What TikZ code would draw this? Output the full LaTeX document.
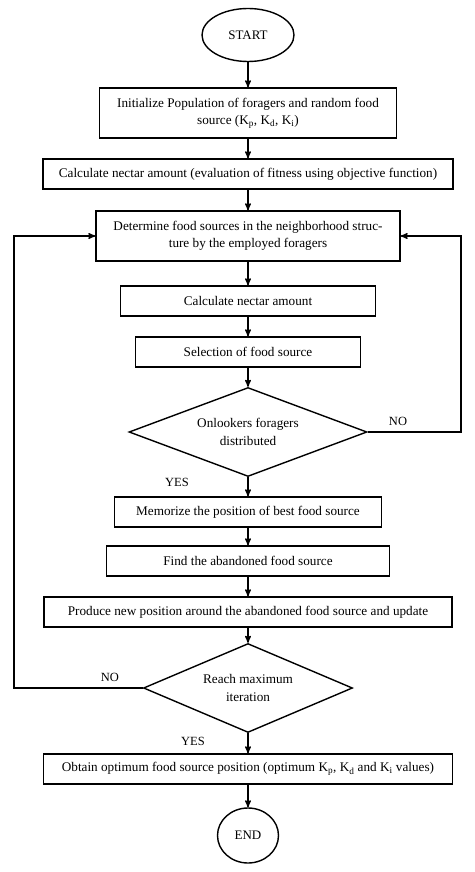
\documentclass[tikz,border=0pt]{standalone}
\usepackage{fontspec}
\setmainfont{Liberation Serif}
\usetikzlibrary{arrows}
\usetikzlibrary{shapes.geometric}

\begin{document}
\begin{tikzpicture}[x=1pt,y=-1pt,line width=1.4pt,>=stealth',
 box/.style={draw,rectangle,minimum height=30pt,inner sep=1pt,align=center,font=\fontsize{13.2}{17.5}\selectfont},
 term/.style={draw,ellipse,inner sep=0pt,font=\fontsize{13}{14}\selectfont},
 test/.style={draw,diamond,aspect=2.5,inner sep=0pt,align=center,font=\fontsize{13.2}{18}\selectfont},
 lbl/.style={font=\fontsize{12.5}{14}\selectfont}]
\useasboundingbox (0,0) rectangle (474,872);
\coordinate (lloop) at (14,0);
\coordinate (rloop) at (461,0);
\node[term, minimum width=92pt, minimum height=53pt] (start) at (248,35) {START};
\node[box, minimum width=297pt, minimum height=50pt] (init) at (248,113) {Initialize Population of foragers and random food\\source (K\textsubscript{p}, K\textsubscript{d}, K\textsubscript{i})};
\node[box, minimum width=410pt] (fit) at (248,174) {Calculate nectar amount (evaluation of fitness using objective function)};
\node[box, minimum width=304pt, minimum height=50pt] (det) at (248,236) {Determine food sources in the neighborhood struc-\\ture by the employed foragers};
\node[box, minimum width=255pt] (nectar) at (248,301) {Calculate nectar amount};
\node[box, minimum width=225pt] (sel) at (248,352) {Selection of food source};
\node[test, minimum width=238pt, minimum height=89pt] (dist) at (248,432) {Onlookers foragers\\distributed};
\node[box, minimum width=267pt] (mem) at (248,512) {Memorize the position of best food source};
\node[box, minimum width=283pt] (aband) at (248,561) {Find the abandoned food source};
\node[box, minimum width=408pt] (prod) at (248,612) {Produce new position around the abandoned food source and update};
\node[test, minimum width=209pt, minimum height=89pt] (iter) at (248,688) {Reach maximum\\iteration};
\node[box, minimum width=409pt] (opt) at (248,769) {Obtain optimum food source position (optimum K\textsubscript{p}, K\textsubscript{d} and K\textsubscript{i} values)};
\node[term, minimum width=61pt, minimum height=55pt] (end) at (248,835.5) {END};
\node[lbl] (no1) at (398,421) {NO};
\node[lbl] (yes1) at (177,482) {YES};
\node[lbl] (no2) at (110,677) {NO};
\node[lbl] (yes2) at (193,741) {YES};
\draw[->] (start) -- (init);
\draw[->] (init) -- (fit);
\draw[->] (fit) -- (det);
\draw[->] (det) -- (nectar);
\draw[->] (nectar) -- (sel);
\draw[->] (sel) -- (dist);
\draw[->] (dist) -- (mem);
\draw[->] (mem) -- (aband);
\draw[->] (aband) -- (prod);
\draw[->] (prod) -- (iter);
\draw[->] (iter) -- (opt);
\draw[->] (opt) -- (end);
\draw[->] (dist.east) -- (dist.east -| rloop) |- (det.east);
\draw[->] (iter.west) -- (iter.west -| lloop) |- (det.west);
\end{tikzpicture}
\end{document}
